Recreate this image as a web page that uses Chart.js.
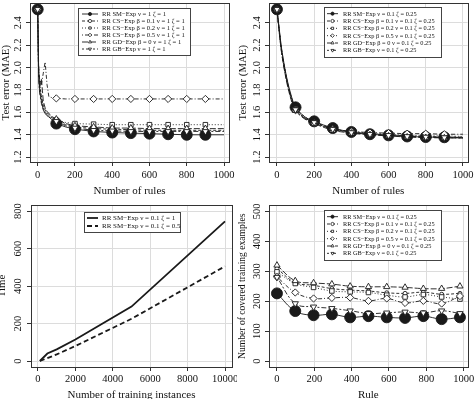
<!DOCTYPE html>
<html>
<head>
<meta charset="utf-8">
<script src="https://cdn.jsdelivr.net/npm/chart.js@4.4.0/dist/chart.umd.min.js"></script>
<style>
  html, body { margin: 0; padding: 0; background: #fff; overflow: hidden; }
  body { width: 474px; height: 399px; position: relative; }
  canvas { position: absolute; }
</style>
</head>
<body>
<canvas id="tl"></canvas>
<canvas id="tr"></canvas>
<canvas id="bl"></canvas>
<canvas id="br"></canvas>
<script>
// ---- data ----

// top left: test error, nu = 1, zeta = 1
const tlRules = [0, 5, 10, 20, 30, 40, 50, 60, 80, 100, 150, 200, 300, 400, 500, 600, 700, 800, 900, 1000];
const tlSM   = [2.52, 1.95, 1.80, 1.70, 1.62, 1.59, 1.57, 1.56, 1.53, 1.50, 1.47, 1.45, 1.43, 1.42, 1.415, 1.41, 1.405, 1.40, 1.40, 1.40];
const tlCS01 = [2.52, 2.00, 1.85, 1.75, 1.66, 1.62, 1.60, 1.58, 1.55, 1.53, 1.49, 1.47, 1.455, 1.45, 1.445, 1.44, 1.44, 1.44, 1.44, 1.44];
const tlCS02 = [2.52, 1.92, 1.88, 1.72, 1.65, 1.61, 1.59, 1.57, 1.55, 1.53, 1.51, 1.50, 1.495, 1.49, 1.49, 1.49, 1.49, 1.49, 1.49, 1.49];
const tlCS05 = [2.52, 2.02, 1.90, 1.85, 1.95, 2.05, 1.85, 1.74, 1.73, 1.725, 1.72, 1.72, 1.72, 1.72, 1.72, 1.72, 1.72, 1.72, 1.72, 1.72];
const tlGD   = [2.52, 1.98, 1.82, 1.90, 1.70, 1.64, 1.61, 1.59, 1.56, 1.54, 1.50, 1.48, 1.47, 1.46, 1.46, 1.455, 1.455, 1.455, 1.455, 1.455];
const tlGB   = [2.52, 1.90, 1.78, 1.68, 1.63, 1.60, 1.58, 1.56, 1.54, 1.52, 1.48, 1.46, 1.44, 1.435, 1.43, 1.43, 1.43, 1.43, 1.43, 1.43];
const tlLabels = [
  'RR SM\u2212Exp \u03bd = 1 \u03b6 = 1',
  'RR CS\u2212Exp \u03b2 = 0.1 \u03bd = 1 \u03b6 = 1',
  'RR CS\u2212Exp \u03b2 = 0.2 \u03bd = 1 \u03b6 = 1',
  'RR CS\u2212Exp \u03b2 = 0.5 \u03bd = 1 \u03b6 = 1',
  'RR GD\u2212Exp \u03b2 = 0 \u03bd = 1 \u03b6 = 1',
  'RR GB\u2212Exp \u03bd = 1 \u03b6 = 1'
];

// top right: test error, nu = 0.1, zeta = 0.25
const trRules = [0, 10, 25, 50, 75, 100, 150, 200, 300, 400, 500, 600, 700, 800, 900, 1000];
const trSM   = [2.52, 2.38, 2.17, 1.93, 1.76, 1.645, 1.56, 1.52, 1.46, 1.425, 1.405, 1.395, 1.385, 1.38, 1.378, 1.375];
const trCS01 = [2.52, 2.37, 2.16, 1.92, 1.75, 1.64, 1.56, 1.515, 1.455, 1.425, 1.41, 1.40, 1.39, 1.385, 1.38, 1.38];
const trCS02 = [2.52, 2.37, 2.15, 1.91, 1.74, 1.63, 1.55, 1.51, 1.45, 1.43, 1.415, 1.405, 1.395, 1.39, 1.39, 1.385];
const trCS05 = [2.52, 2.36, 2.14, 1.90, 1.73, 1.62, 1.545, 1.505, 1.45, 1.43, 1.42, 1.415, 1.41, 1.41, 1.405, 1.405];
const trGD   = [2.52, 2.35, 2.13, 1.89, 1.72, 1.615, 1.54, 1.50, 1.44, 1.415, 1.40, 1.39, 1.38, 1.375, 1.372, 1.37];
const trGB   = [2.52, 2.36, 2.15, 1.91, 1.74, 1.625, 1.55, 1.51, 1.45, 1.42, 1.405, 1.395, 1.385, 1.38, 1.375, 1.372];
const smallLabels = [
  'RR SM\u2212Exp \u03bd = 0.1 \u03b6 = 0.25',
  'RR CS\u2212Exp \u03b2 = 0.1 \u03bd = 0.1 \u03b6 = 0.25',
  'RR CS\u2212Exp \u03b2 = 0.2 \u03bd = 0.1 \u03b6 = 0.25',
  'RR CS\u2212Exp \u03b2 = 0.5 \u03bd = 0.1 \u03b6 = 0.25',
  'RR GD\u2212Exp \u03b2 = 0 \u03bd = 0.1 \u03b6 = 0.25',
  'RR GB\u2212Exp \u03bd = 0.1 \u03b6 = 0.25'
];

// bottom left: time vs training instances
const blInstances = [100, 500, 1000, 2000, 5000, 10000];
const blZeta1  = [0, 40, 62, 115, 290, 745];
const blZeta05 = [0, 15, 35, 80, 225, 505];
const blLabels = [
  'RR SM\u2212Exp \u03bd = 0.1 \u03b6 = 1',
  'RR SM\u2212Exp \u03bd = 0.1 \u03b6 = 0.5'
];

// bottom right: covered training examples per rule
const brRule = [0, 98, 196, 294, 392, 490, 588, 686, 784, 882, 980];
const brSM   = [226, 167, 153, 156, 146, 150, 146, 144, 150, 140, 146];
const brCS01 = [309, 262, 253, 242, 237, 234, 228, 226, 230, 223, 226];
const brCS02 = [298, 259, 246, 234, 231, 229, 220, 214, 222, 214, 207];
const brCS05 = [281, 229, 209, 211, 212, 201, 209, 194, 201, 192, 217];
const brGD   = [320, 268, 261, 257, 250, 248, 248, 246, 242, 242, 250];
const brGB   = [280, 192, 181, 176, 168, 159, 161, 164, 161, 168, 159];

// ticks
const errTicks = [1.2, 1.4, 1.6, 1.8, 2.0, 2.2, 2.4];
const rulesTicks = [0, 200, 400, 600, 800, 1000];
const timeTicks = [0, 200, 400, 600, 800];
const instTicks = [0, 2000, 4000, 6000, 8000, 10000];
const coverTicks = [0, 100, 200, 300, 400, 500];
const markedRules = [0, 100, 200, 300, 400, 500, 600, 700, 800, 900];

// ---- styling ----
const SERIF = "'Liberation Serif', 'DejaVu Serif', serif";
const INK = '#1a1a1a';

// one entry per method, R style: lty + pch
const methodStyles = [
  { dash: [], pointStyle: 'circle', radius: 5.5, fill: INK, legendRadius: 1.6 },
  { dash: [3, 2], pointStyle: 'circle', radius: 2, fill: '#fff', legendRadius: 1.6 },
  { dash: [1, 2], pointStyle: 'rect', radius: 3.2, fill: '#fff', legendRadius: 1.6 },
  { dash: [1, 2, 4, 2], pointStyle: 'rectRot', radius: 3.6, fill: '#fff', legendRadius: 1.8 },
  { dash: [6, 2], pointStyle: 'triangle', radius: 3.6, fill: '#fff', legendRadius: 1.8 },
  { dash: [2, 2, 5, 2], pointStyle: 'triangle', rotation: 180, radius: 3.6, fill: '#fff', legendRadius: 1.8 }
];

function toPoints(xs, ys) {
  return xs.map((x, i) => ({ x: x, y: ys[i] }));
}

function methodSets(xs, series, labels, marked, tension) {
  return series.map((ys, i) => {
    const st = methodStyles[i];
    return {
      label: labels[i],
      data: toPoints(xs, ys),
      borderColor: INK,
      borderWidth: 0.9,
      borderDash: st.dash,
      pointStyle: st.pointStyle,
      pointRotation: st.rotation || 0,
      pointBorderColor: INK,
      pointBackgroundColor: st.fill,
      pointBorderWidth: 0.9,
      pointRadius: ctx => (!marked || marked.includes(ctx.raw.x)) ? st.radius : 0,
      legendRadius: st.legendRadius,
      tension: tension,
      order: 5 - i
    };
  });
}

// box around the plot region, like R's box()
const boxPlugin = {
  id: 'rbox',
  afterDraw(chart) {
    const a = chart.chartArea;
    const ctx = chart.ctx;
    ctx.save();
    ctx.strokeStyle = '#333';
    ctx.lineWidth = 1;
    ctx.strokeRect(Math.round(a.left) + 0.5, Math.round(a.top) + 0.5,
      Math.round(a.right - a.left), Math.round(a.bottom - a.top));
    ctx.restore();
  }
};

function legendPlugin(leg) {
  return {
    id: 'rlegend',
    afterDraw(chart) {
      const ctx = chart.ctx;
      const [x, y, w, h] = leg.box;
      const sets = chart.data.datasets;
      const rowH = (h - 2 * leg.pad) / sets.length;
      ctx.save();
      ctx.fillStyle = '#fff';
      ctx.fillRect(x, y, w, h);
      ctx.strokeStyle = '#444';
      ctx.lineWidth = 1;
      ctx.strokeRect(x + 0.5, y + 0.5, w, h);
      sets.forEach((ds, i) => {
        const cy = y + leg.pad + rowH * (i + 0.5);
        ctx.strokeStyle = INK;
        ctx.lineWidth = ds.borderWidth;
        ctx.setLineDash(ds.borderDash || []);
        ctx.beginPath();
        ctx.moveTo(x + leg.line[0], cy);
        ctx.lineTo(x + leg.line[1], cy);
        ctx.stroke();
        ctx.setLineDash([]);
        if (leg.markers) {
          ctx.fillStyle = ds.pointBackgroundColor;
          ctx.strokeStyle = INK;
          ctx.lineWidth = 0.8;
          Chart.helpers.drawPoint(ctx, {
            pointStyle: ds.pointStyle, rotation: ds.pointRotation,
            radius: ds.legendRadius, borderWidth: 0.8
          }, x + (leg.line[0] + leg.line[1]) / 2, cy);
        }
        ctx.fillStyle = '#111';
        ctx.font = leg.font + 'px ' + SERIF;
        ctx.textBaseline = 'middle';
        ctx.textAlign = 'left';
        ctx.fillText(ds.label, x + leg.text, cy + 0.5);
      });
      ctx.restore();
    }
  };
}

function fixedTicks(list) {
  return axis => { axis.ticks = list.map(v => ({ value: v })); };
}

// canvasBox: [left, top, width, height] on the page; plot: [x1, y1, x2, y2] on the page
function panel(id, canvasBox, plot, cfg) {
  const el = document.getElementById(id);
  el.style.left = canvasBox[0] + 'px';
  el.style.top = canvasBox[1] + 'px';
  el.width = canvasBox[2];
  el.height = canvasBox[3];
  el.style.width = canvasBox[2] + 'px';
  el.style.height = canvasBox[3] + 'px';
  const yW = plot[0] - canvasBox[0];
  const xH = canvasBox[1] + canvasBox[3] - plot[3];
  const padTop = plot[1] - canvasBox[1];
  const padRight = canvasBox[0] + canvasBox[2] - plot[2];

  const gridOpts = { color: '#dcdcdc', lineWidth: 1, tickColor: '#333', tickLength: 4, drawTicks: true };

  new Chart(el, {
    type: 'line',
    data: { datasets: cfg.datasets },
    options: {
      responsive: false,
      animation: false,
      devicePixelRatio: 1,
      layout: { padding: { top: padTop, right: padRight, left: 0, bottom: 0 } },
      plugins: { legend: { display: false }, tooltip: { enabled: false } },
      scales: {
        x: {
          type: 'linear',
          min: cfg.x.min, max: cfg.x.max,
          afterBuildTicks: fixedTicks(cfg.x.ticks),
          afterFit: s => { s.height = xH; s.paddingLeft = 0; s.paddingRight = 0; },
          border: { display: false },
          grid: gridOpts,
          ticks: {
            color: '#111', font: { family: SERIF, size: 10.5 }, padding: cfg.x.tickPad,
            maxRotation: 0, minRotation: 0, callback: v => String(v)
          },
          title: {
            display: true, text: cfg.x.title, color: '#111',
            font: { family: SERIF, size: 11 }, padding: { top: 0, bottom: cfg.x.titlePad }
          }
        },
        y: {
          type: 'linear',
          min: cfg.y.min, max: cfg.y.max,
          afterBuildTicks: fixedTicks(cfg.y.ticks),
          afterFit: s => { s.width = yW; s.paddingTop = 0; s.paddingBottom = 0; },
          border: { display: false },
          grid: gridOpts,
          ticks: {
            color: '#111', font: { family: SERIF, size: 10.5 }, padding: cfg.y.tickPad,
            minRotation: 90, maxRotation: 90, crossAlign: 'center',
            callback: cfg.y.format
          },
          title: {
            display: true, text: cfg.y.title, color: '#111',
            font: { family: SERIF, size: cfg.y.titleSize || 10.8 }, padding: { top: cfg.y.titlePad, bottom: 0 }
          }
        }
      }
    },
    plugins: [boxPlugin, legendPlugin(cfg.legend)]
  });
}

const oneDecimal = v => v.toFixed(1);
const plain = v => String(v);

// top left
panel('tl', [0, -3, 237, 202], [30, -2, 229, 162], {
  datasets: methodSets(tlRules, [tlSM, tlCS01, tlCS02, tlCS05, tlGD, tlGB], tlLabels, markedRules, 0),
  x: { min: -41.3, max: 1026.8, ticks: rulesTicks, title: 'Number of rules', tickPad: 3, titlePad: 1 },
  y: { min: 1.157, max: 2.573, ticks: errTicks, title: 'Test error (MAE)', tickPad: 1, titlePad: 0, format: oneDecimal },
  legend: { box: [78, 11, 112, 47], pad: 2.5, line: [4, 20], text: 24, font: 6.6, markers: true }
});

// top right
panel('tr', [237, -3, 237, 202], [269, -2, 469, 162], {
  datasets: methodSets(trRules, [trSM, trCS01, trCS02, trCS05, trGD, trGB], smallLabels, markedRules, 0.3),
  x: { min: -42.7, max: 1025, ticks: rulesTicks, title: 'Number of rules', tickPad: 3, titlePad: 1 },
  y: { min: 1.157, max: 2.573, ticks: errTicks, title: 'Test error (MAE)', tickPad: 1, titlePad: 0, format: oneDecimal },
  legend: { box: [87, 10, 117, 50], pad: 3, line: [3, 14], text: 19, font: 6.3, markers: true }
});

// bottom left
panel('bl', [0, 199, 237, 200], [31, 205, 232, 367], {
  datasets: [
    { label: blLabels[0], data: toPoints(blInstances, blZeta1), borderColor: INK, borderWidth: 1.8, pointRadius: 0, tension: 0 },
    { label: blLabels[1], data: toPoints(blInstances, blZeta05), borderColor: INK, borderWidth: 1.8, borderDash: [5, 3], pointRadius: 0, tension: 0 }
  ],
  x: { min: -374, max: 10374, ticks: instTicks, title: 'Number of training instances', tickPad: 2, titlePad: -3 },
  y: { min: -32, max: 832, ticks: timeTicks, title: 'Time', tickPad: 1, titlePad: -4, format: plain },
  legend: { box: [84, 13, 96, 20], pad: 2, line: [3, 14], text: 18, font: 7, markers: false }
});

// bottom right
panel('br', [237, 199, 237, 200], [269, 205, 469, 367], {
  datasets: methodSets(brRule, [brSM, brCS01, brCS02, brCS05, brGD, brGB], smallLabels, null, 0.4),
  x: { min: -42.6, max: 1021, ticks: rulesTicks, title: 'Rule', tickPad: 2, titlePad: -3 },
  y: { min: -20, max: 520, ticks: coverTicks, title: 'Number of covered training examples', titleSize: 9.6, tickPad: 0, titlePad: 0, format: plain },
  legend: { box: [87, 11, 117, 50], pad: 3, line: [3, 14], text: 19, font: 6.3, markers: true }
});
</script>
</body>
</html>
